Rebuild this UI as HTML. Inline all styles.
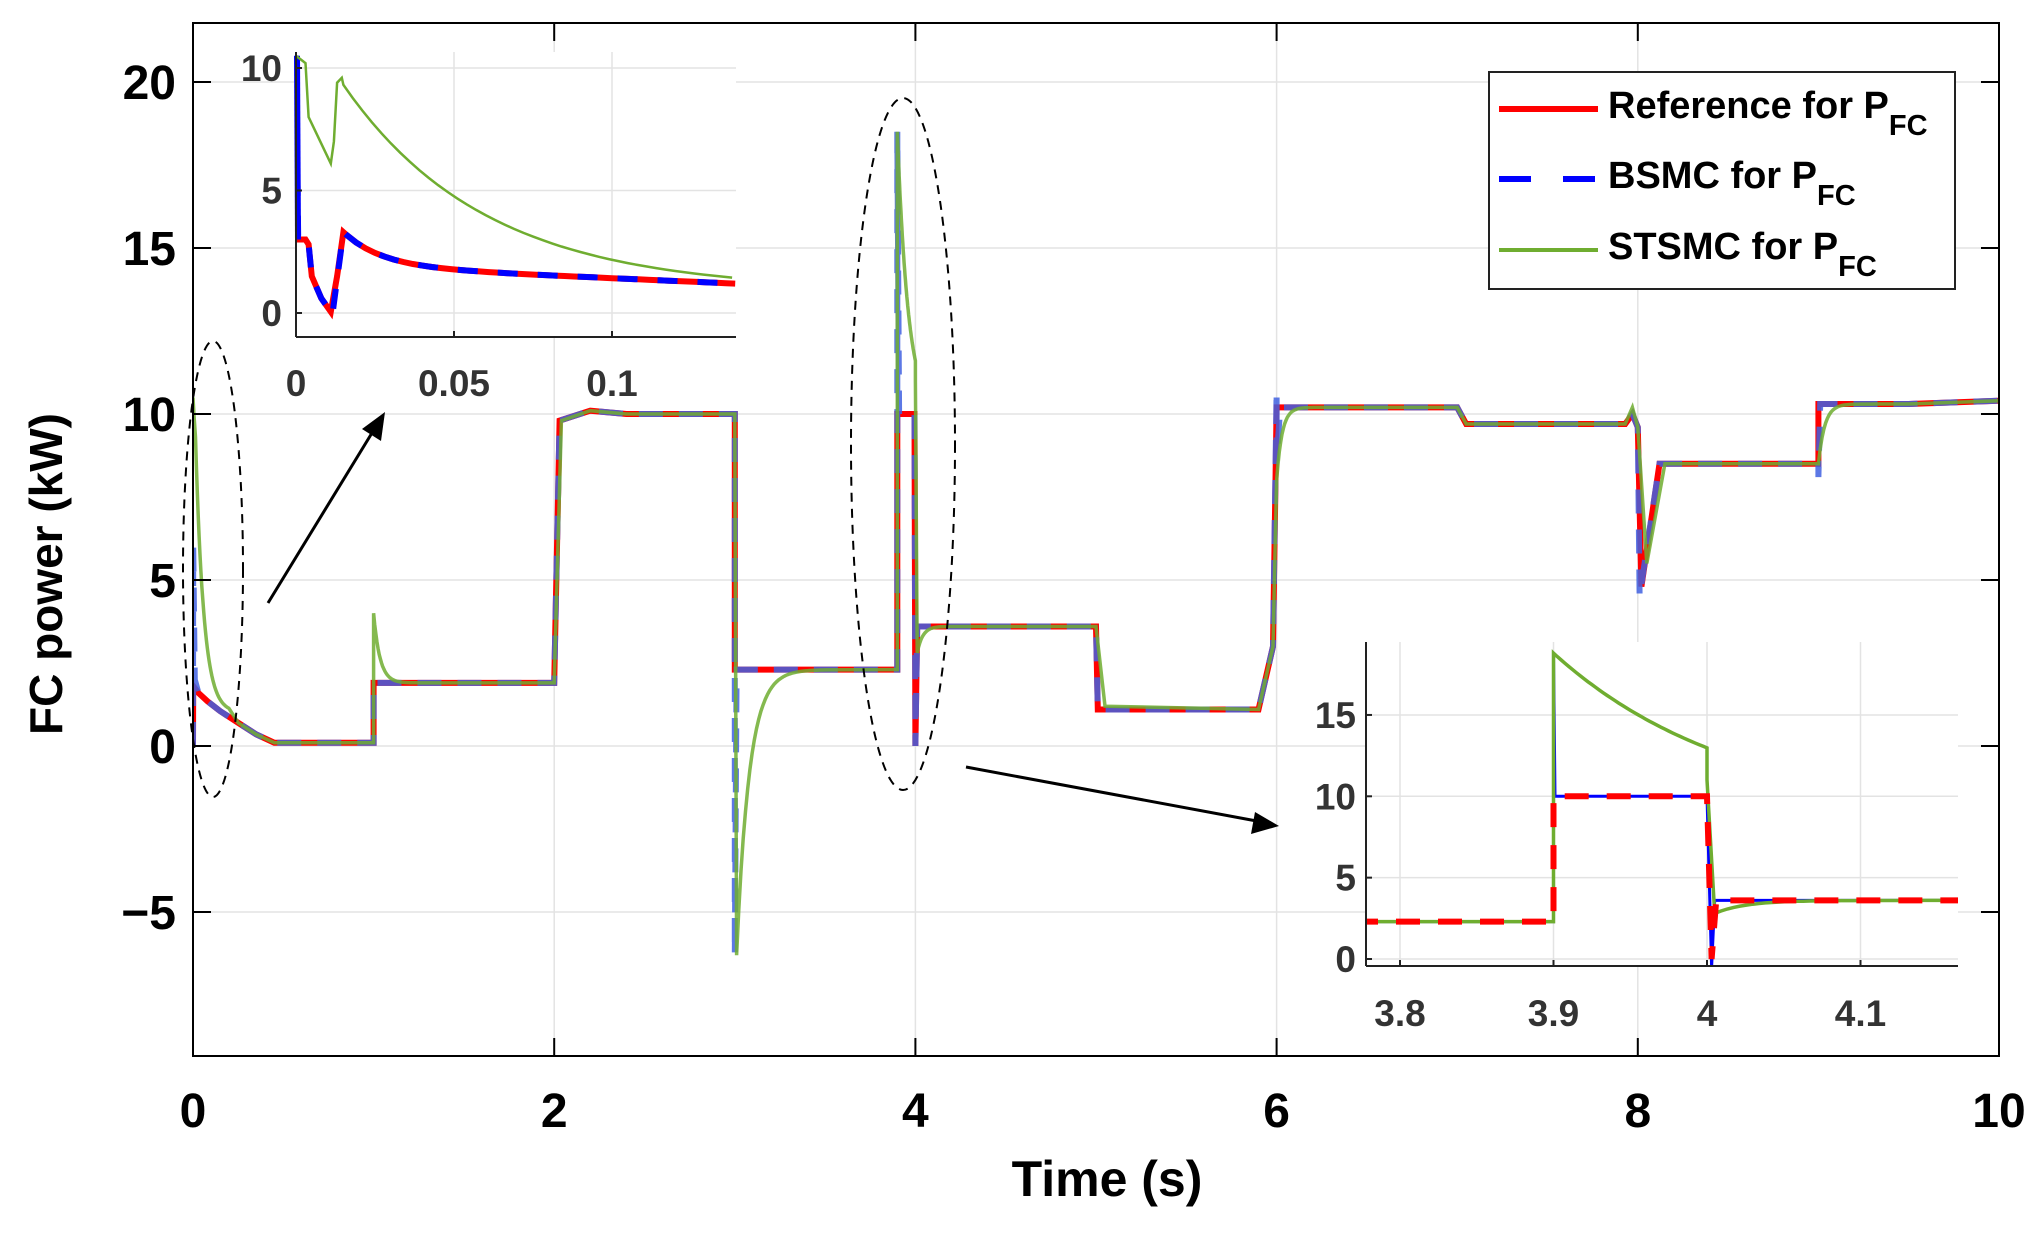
<!DOCTYPE html>
<html><head><meta charset="utf-8"><style>
html,body{margin:0;padding:0;background:#fff}
svg{display:block}
text{font-family:"Liberation Sans",Arial,sans-serif;font-weight:bold}
</style></head><body>
<svg id="s" width="2044" height="1240" viewBox="0 0 2044 1240" xmlns="http://www.w3.org/2000/svg">
<rect width="2044" height="1240" fill="#fff"/>
<g id="grid"></g>
<g id="main" clip-path="url(#cm)"></g>
<rect x="193" y="23" width="1806" height="1033" fill="none" stroke="#000" stroke-width="2"/>
<g id="ticks"></g>
<g font-size="48" text-anchor="end" id="ylab"></g>
<g font-size="48" text-anchor="middle" id="xlab"></g>
<text x="1107" y="1196" font-size="50" text-anchor="middle">Time (s)</text>
<text transform="translate(62,574) rotate(-90)" font-size="46" text-anchor="middle">FC power (kW)</text>
<ellipse cx="213" cy="569" rx="30" ry="228" fill="none" stroke="#000" stroke-width="2" stroke-dasharray="9,7"/>
<ellipse cx="903" cy="444" rx="52" ry="346" fill="none" stroke="#000" stroke-width="2" stroke-dasharray="9,7"/>
<defs>
<clipPath id="cm"><rect x="193" y="23" width="1806" height="1033"/></clipPath>
<clipPath id="c1"><rect x="296" y="52" width="440" height="285"/></clipPath>
<clipPath id="c2"><rect x="1366" y="642" width="592" height="324"/></clipPath>
</defs>
<line x1="268" y1="603" x2="375" y2="428" stroke="#000" stroke-width="3"/>
<polygon points="385,412 381,441 362,429" fill="#000"/>
<line x1="966" y1="767" x2="1262" y2="822" stroke="#000" stroke-width="3"/>
<polygon points="1279,826 1251,834 1255,812" fill="#000"/>
<rect x="296" y="52" width="440" height="285" fill="#fff"/>
<g id="i1"></g>
<rect x="1366" y="642" width="592" height="324" fill="#fff"/>
<g id="i2"></g>
<rect x="1489" y="72" width="466" height="217" fill="#fff" stroke="#222" stroke-width="2"/>
<line x1="1499" y1="109" x2="1598" y2="109" stroke="#f00" stroke-width="6"/>
<line x1="1499" y1="179" x2="1598" y2="179" stroke="#00f" stroke-width="6" stroke-dasharray="32,32"/>
<line x1="1499" y1="250" x2="1598" y2="250" stroke="#6fad30" stroke-width="4"/>
<text x="1608" y="118" font-size="38">Reference for P<tspan font-size="29" dy="17">FC</tspan></text>
<text x="1608" y="188" font-size="38">BSMC for P<tspan font-size="29" dy="17">FC</tspan></text>
<text x="1608" y="259" font-size="38">STSMC for P<tspan font-size="29" dy="17">FC</tspan></text>
</svg>
<script>
var NS="http://www.w3.org/2000/svg";
function el(p,tag,a,txt){var e=document.createElementNS(NS,tag);for(var k in a)e.setAttribute(k,a[k]);if(txt!==undefined)e.textContent=txt;p.appendChild(e);return e;}
var G=function(id){return document.getElementById(id)};
function MX(t){return 193+180.6*t}
function MY(v){return 746-33.2*v}
for(var t=2;t<10;t+=2)el(G('grid'),'line',{x1:MX(t),x2:MX(t),y1:23,y2:1056,stroke:'#e3e3e3','stroke-width':1.5});
for(var v=-5;v<=20;v+=5)el(G('grid'),'line',{x1:193,x2:1999,y1:MY(v),y2:MY(v),stroke:'#e3e3e3','stroke-width':1.5});
for(var t=0;t<=10;t+=2){el(G('xlab'),'text',{x:MX(t),y:1127},String(t));
 el(G('ticks'),'line',{x1:MX(t),x2:MX(t),y1:1056,y2:1038,stroke:'#000','stroke-width':2});
 el(G('ticks'),'line',{x1:MX(t),x2:MX(t),y1:23,y2:41,stroke:'#000','stroke-width':2});}
for(var v=-5;v<=20;v+=5){el(G('ylab'),'text',{x:176,y:MY(v)+17},(v<0?'\u2212':'')+Math.abs(v));
 el(G('ticks'),'line',{x1:193,x2:211,y1:MY(v),y2:MY(v),stroke:'#000','stroke-width':2});
 el(G('ticks'),'line',{x1:1999,x2:1981,y1:MY(v),y2:MY(v),stroke:'#000','stroke-width':2});}
function decay(arr,t0,t1,v0,vinf,tau){for(var t=t0;t<=t1+1e-9;t+=(t1-t0)/40)arr.push([t,vinf+(v0-vinf)*Math.exp(-(t-t0)/tau)]);}
var start=[[0.03,1.6],[0.08,1.35],[0.15,1.05],[0.25,0.7],[0.35,0.35],[0.45,0.1]];
var ref=[[0,0],[0.001,1.8]].concat(start);
ref.push([1,0.1],[1,1.9],[2,1.9],[2.03,9.8],[2.2,10.1],[2.4,10],[3,10],[3.0,2.3],[3.9,2.3],[3.9,10],[3.995,10],[4.0,0],[4.01,3.6],[5,3.6],[5.01,1.1],[5.9,1.1],[5.98,3],[6,10.2],[7,10.2],[7.05,9.7],[7.93,9.7],[7.97,10],[8.0,9.6],[8.02,4.8],[8.12,8.5],[9,8.5],[9,10.3],[9.5,10.3],[10,10.4]);
var bs=[[0,0],[0.001,6],[0.01,2]].concat(start);
bs.push([1,0.1],[1,1.9],[2,1.9],[2.03,9.8],[2.2,10.1],[2.4,10],[3,10],[3.0,-6.3],[3.01,2.3],[3.9,2.3],[3.9,18.5],[3.91,10],[3.995,10],[4.0,0],[4.01,3.6],[5,3.6],[5.01,1.1],[5.9,1.1],[5.98,3],[6,10.7],[6,8.6],[6.02,10.2],[7,10.2],[7.05,9.7],[7.93,9.7],[7.97,10],[8.0,9.6],[8.01,4.5],[8.12,8.5],[9,8.5],[9,8.1],[9.01,10.3],[9.5,10.3],[10,10.4]);
var gr=[[0,10.5],[0.005,10]];
for(var t=0.014;t<=0.2;t+=0.005)gr.push([t,Math.max(1.0+8.3*Math.exp(-(t-0.014)/0.045), 1.6-3*(t-0.03))]);
gr.push([0.25,0.7],[0.35,0.35],[0.45,0.1],[1,0.1],[1,4]);decay(gr,1,1.25,4,1.9,0.035);gr.push([2,1.9],[2.04,9.8],[2.2,10.1],[2.4,10],[3,10],[3.01,-6.3]);
decay(gr,3.01,3.5,-6.3,2.3,0.07);gr.push([3.9,2.3],[3.9,18.5]);decay(gr,3.9,4.0,18.5,10,0.06);
gr.push([4.0,11],[4.01,2.8]);decay(gr,4.01,4.3,2.8,3.6,0.03);gr.push([5,3.6],[5.05,1.2],[5.9,1.1],[5.98,3],[6,8]);
decay(gr,6,6.3,8,10.2,0.03);gr.push([7,10.2],[7.05,9.7],[7.93,9.7],[7.97,10.2],[8.0,9.6],[8.05,5.5],[8.15,8.5],[9,8.5]);
decay(gr,9,9.4,8.5,10.3,0.035);gr.push([9.5,10.3],[10,10.4]);
function path(arr,fx,fy){return arr.map(function(p,i){return (i?'L':'M')+fx(p[0]).toFixed(1)+','+fy(p[1]).toFixed(1)}).join(' ')}
var gm=G('main');
el(gm,'path',{d:path(ref,MX,MY),fill:'none',stroke:'#f00','stroke-width':6});
el(gm,'path',{d:path(bs,MX,MY),fill:'none',stroke:'#4060e0','stroke-width':6,'stroke-dasharray':'24,16','opacity':0.85});
el(gm,'path',{d:path(gr,MX,MY),fill:'none',stroke:'#6fad30','stroke-width':3.5,'opacity':0.85});
(function(){
 var g=G('i1');function X(t){return 296+3160*t}function Y(v){return 313-24.5*v}
 [0.05,0.1].forEach(function(t){el(g,'line',{x1:X(t),x2:X(t),y1:52,y2:337,stroke:'#e3e3e3','stroke-width':1.5})});
 [0,5,10].forEach(function(v){el(g,'line',{x1:296,x2:736,y1:Y(v),y2:Y(v),stroke:'#e3e3e3','stroke-width':1.5})});
 var r=[[0,3],[0.003,3],[0.004,2.8],[0.005,1.5],[0.008,0.6],[0.011,0.05],[0.013,1.5],[0.015,3.3]];
 for(var t=0.016;t<=0.14;t+=0.003)r.push([t,1.2+0.7*(1-(t-0.015)/0.124)+1.4*Math.exp(-(t-0.015)/0.012)]);
 var b=[[0,10.5],[0.0007,3]].concat(r.slice(1));b[7]=[0.0115,-0.1];
 var gg=[[0,10.5],[0.003,10.2],[0.004,8],[0.011,6.1],[0.012,7],[0.013,9.4],[0.0145,9.6]];
 for(var t=0.015;t<=0.14;t+=0.003)gg.push([t,0.9+8.6*Math.exp(-(t-0.014)/0.045)]);
 el(g,'path',{d:path(r,X,Y),fill:'none',stroke:'#f00','stroke-width':6,'clip-path':'url(#c1)'});
 el(g,'path',{d:path(b,X,Y),fill:'none',stroke:'#00f','stroke-width':6,'stroke-dasharray':'20,20','clip-path':'url(#c1)'});
 el(g,'path',{d:'M297,'+Y(10.5)+' L298,'+Y(3),stroke:'#00f','stroke-width':6});
 el(g,'path',{d:path(gg,X,Y),fill:'none',stroke:'#6fad30','stroke-width':2.5,'clip-path':'url(#c1)'});
 el(g,'line',{x1:296,x2:296,y1:52,y2:337,stroke:'#222','stroke-width':2});
 el(g,'line',{x1:296,x2:736,y1:337,y2:337,stroke:'#222','stroke-width':2});
 [[0,'0'],[0.05,'0.05'],[0.1,'0.1']].forEach(function(a){el(g,'text',{x:X(a[0]),y:396,'font-size':37,fill:'#333','text-anchor':'middle'},a[1]);
  el(g,'line',{x1:X(a[0]),x2:X(a[0]),y1:337,y2:331,stroke:'#222','stroke-width':2})});
 [0,5,10].forEach(function(v){el(g,'text',{x:282,y:Y(v)+13,'font-size':37,fill:'#333','text-anchor':'end'},String(v));
  el(g,'line',{x1:296,x2:302,y1:Y(v),y2:Y(v),stroke:'#222','stroke-width':2})});
})();
(function(){
 var g=G('i2');function X(t){return 1400+1535*(t-3.8)}function Y(v){return 959-16.27*v}
 [3.8,3.9,4,4.1].forEach(function(t){el(g,'line',{x1:X(t),x2:X(t),y1:642,y2:966,stroke:'#e3e3e3','stroke-width':1.5})});
 [0,5,10,15].forEach(function(v){el(g,'line',{x1:1366,x2:1958,y1:Y(v),y2:Y(v),stroke:'#e3e3e3','stroke-width':1.5})});
 var r=[[3.77,2.3],[3.9,2.3],[3.9,10],[4.0,10],[4.003,0],[4.006,3.6],[4.17,3.6]];
 var b=[[3.77,2.3],[3.9,2.3],[3.9,18.8],[3.901,10],[4.0,10],[4.003,-0.5],[4.005,3.6],[4.17,3.6]];
 var gg=[[3.77,2.3],[3.9,2.3],[3.9,18.8]];decay(gg,3.9,4.0,18.8,8.5,0.12);gg.push([4.0,11],[4.005,2.8]);decay(gg,4.005,4.17,2.8,3.6,0.02);
 el(g,'path',{d:path(b,X,Y),fill:'none',stroke:'#00f','stroke-width':3,'clip-path':'url(#c2)'});
 el(g,'path',{d:path(gg,X,Y),fill:'none',stroke:'#6fad30','stroke-width':3.5,'clip-path':'url(#c2)'});
 el(g,'path',{d:path(r,X,Y),fill:'none',stroke:'#f00','stroke-width':6,'stroke-dasharray':'24,18','clip-path':'url(#c2)'});
 el(g,'line',{x1:1366,x2:1366,y1:642,y2:966,stroke:'#222','stroke-width':2});
 el(g,'line',{x1:1366,x2:1958,y1:966,y2:966,stroke:'#222','stroke-width':2});
 [3.8,3.9,4,4.1].forEach(function(t){el(g,'text',{x:X(t),y:1026,'font-size':37,fill:'#333','text-anchor':'middle'},String(t));
  el(g,'line',{x1:X(t),x2:X(t),y1:966,y2:960,stroke:'#222','stroke-width':2})});
 [0,5,10,15].forEach(function(v){el(g,'text',{x:1356,y:Y(v)+13,'font-size':37,fill:'#333','text-anchor':'end'},String(v));
  el(g,'line',{x1:1366,x2:1372,y1:Y(v),y2:Y(v),stroke:'#222','stroke-width':2})});
})();
</script>
</body></html>
